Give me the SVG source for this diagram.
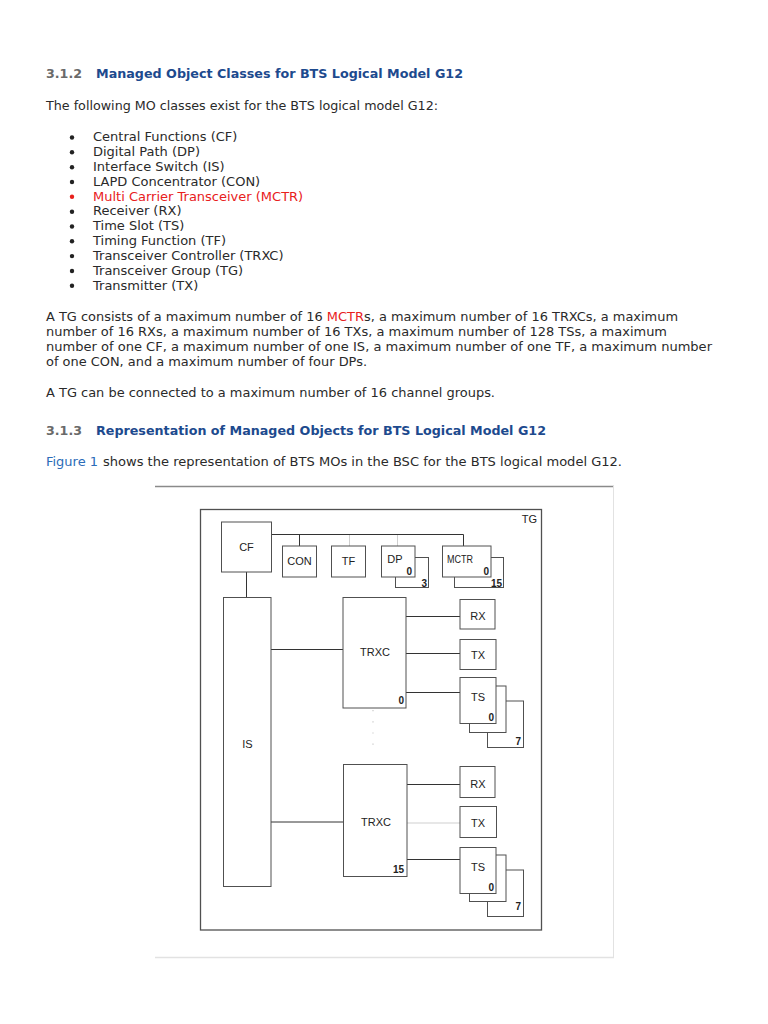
<svg xmlns="http://www.w3.org/2000/svg" width="768" height="1024" viewBox="0 0 768 1024">
<style>
.body{font-family:"DejaVu Sans","Verdana",sans-serif;font-size:13px;fill:#2a2a2a}
.num{font-family:"DejaVu Sans",sans-serif;font-size:12px;font-weight:bold;fill:#6a6a6a}
.head{font-family:"DejaVu Sans",sans-serif;font-size:12px;font-weight:bold;fill:#1d4a8e}
.red{fill:#e8201c}
.link{fill:#2b6cb8}
.box{fill:#fff;stroke:#505050;stroke-width:1}
.lbl{font-family:"Liberation Sans","Arial",sans-serif;font-size:11px;fill:#222;text-anchor:middle}
.idx{font-family:"Liberation Sans","Arial",sans-serif;font-size:10px;font-weight:bold;fill:#222;text-anchor:end}
.dk{stroke:#333;stroke-width:1;fill:none}
.lt{stroke:#cfcfcf;stroke-width:1;fill:none}
</style>
<rect width="768" height="1024" fill="#fff"/>

<!-- Section 3.1.2 -->
<text class="num" x="46" y="77.5" textLength="36" lengthAdjust="spacingAndGlyphs">3.1.2</text>
<text class="head" x="96" y="77.5" textLength="367" lengthAdjust="spacingAndGlyphs">Managed Object Classes for BTS Logical Model G12</text>
<text class="body" x="46" y="109.5" textLength="392" lengthAdjust="spacingAndGlyphs">The following MO classes exist for the BTS logical model G12:</text>

<g id="bullets">
<circle cx="72" cy="137.5" r="2.2" fill="#222"/>
<circle cx="72" cy="152.3" r="2.2" fill="#222"/>
<circle cx="72" cy="167.2" r="2.2" fill="#222"/>
<circle cx="72" cy="182" r="2.2" fill="#222"/>
<circle cx="72" cy="196.8" r="2.2" fill="#e8201c"/>
<circle cx="72" cy="211.7" r="2.2" fill="#222"/>
<circle cx="72" cy="226.5" r="2.2" fill="#222"/>
<circle cx="72" cy="241.3" r="2.2" fill="#222"/>
<circle cx="72" cy="256.1" r="2.2" fill="#222"/>
<circle cx="72" cy="271" r="2.2" fill="#222"/>
<circle cx="72" cy="285.8" r="2.2" fill="#222"/>
<text class="body" x="93" y="141.2">Central Functions (CF)</text>
<text class="body" x="93" y="156">Digital Path (DP)</text>
<text class="body" x="93" y="170.9">Interface Switch (IS)</text>
<text class="body" x="93" y="185.7">LAPD Concentrator (CON)</text>
<text class="body red" x="93" y="200.5">Multi Carrier Transceiver (MCTR)</text>
<text class="body" x="93" y="215.4">Receiver (RX)</text>
<text class="body" x="93" y="230.2">Time Slot (TS)</text>
<text class="body" x="93" y="245">Timing Function (TF)</text>
<text class="body" x="93" y="259.8">Transceiver Controller (TRXC)</text>
<text class="body" x="93" y="274.7">Transceiver Group (TG)</text>
<text class="body" x="93" y="289.5">Transmitter (TX)</text>
</g>

<text class="body" x="46" y="321.2" textLength="632" lengthAdjust="spacingAndGlyphs">A TG consists of a maximum number of 16 <tspan class="red">MCTR</tspan>s, a maximum number of 16 TRXCs, a maximum</text>
<text class="body" x="46" y="336.2" textLength="621" lengthAdjust="spacingAndGlyphs">number of 16 RXs, a maximum number of 16 TXs, a maximum number of 128 TSs, a maximum</text>
<text class="body" x="46" y="351.2" textLength="666" lengthAdjust="spacingAndGlyphs">number of one CF, a maximum number of one IS, a maximum number of one TF, a maximum number</text>
<text class="body" x="46" y="366.2" textLength="321" lengthAdjust="spacingAndGlyphs">of one CON, and a maximum number of four DPs.</text>
<text class="body" x="46" y="396.5" textLength="449" lengthAdjust="spacingAndGlyphs">A TG can be connected to a maximum number of 16 channel groups.</text>

<!-- Section 3.1.3 -->
<text class="num" x="46" y="435" textLength="36" lengthAdjust="spacingAndGlyphs">3.1.3</text>
<text class="head" x="96" y="435" textLength="450" lengthAdjust="spacingAndGlyphs">Representation of Managed Objects for BTS Logical Model G12</text>
<text class="body link" x="46" y="466" textLength="52" lengthAdjust="spacingAndGlyphs">Figure 1</text>
<text class="body" x="103" y="466" textLength="519" lengthAdjust="spacingAndGlyphs">shows the representation of BTS MOs in the BSC for the BTS logical model G12.</text>

<!-- Figure frame -->
<g id="frame">
<line x1="155" y1="486.5" x2="614" y2="486.5" stroke="#8a8a8a" stroke-width="1.3"/>
<line x1="613.5" y1="486" x2="613.5" y2="957" stroke="#e2e2e2" stroke-width="1"/>
<line x1="155" y1="957.5" x2="614" y2="957.5" stroke="#e2e2e2" stroke-width="1.3"/>
</g>

<g id="TG">
<rect x="200.5" y="509.5" width="341" height="420.5" fill="none" stroke="#505050" stroke-width="1.3"/>
<text class="lbl" x="537" y="523" style="text-anchor:end">TG</text>
</g>

<!-- connectors -->
<g id="connectors">
<polyline class="dk" points="272,534.5 463.5,534.5 463.5,546" stroke-width="1.5"/>
<line class="dk" x1="299.5" y1="534" x2="299.5" y2="546"/>
<line class="lt" x1="349.5" y1="535" x2="349.5" y2="546"/>
<line class="lt" x1="397.5" y1="535" x2="397.5" y2="546"/>
<line class="dk" x1="246.5" y1="572" x2="246.5" y2="597"/>
<line class="dk" x1="271" y1="649.5" x2="343" y2="649.5"/>
<line class="dk" x1="406" y1="616.5" x2="460" y2="616.5"/>
<line class="dk" x1="406" y1="653.5" x2="460" y2="653.5"/>
<line class="dk" x1="406" y1="692.5" x2="460" y2="692.5"/>
<line class="dk" x1="271" y1="822" x2="343" y2="822" stroke-width="1.6"/>
<line class="dk" x1="407" y1="784.5" x2="460" y2="784.5"/>
<line class="lt" x1="407" y1="823" x2="460" y2="823"/>
<line class="dk" x1="407" y1="859.5" x2="460" y2="859.5"/>
<line x1="373" y1="710" x2="373" y2="752" stroke="#c8c8c8" stroke-width="1.2" stroke-dasharray="1.2 10"/>
</g>

<g id="CF"><rect class="box" x="221.5" y="522" width="50" height="50"/><text class="lbl" x="246.5" y="551">CF</text></g>
<g id="CON"><rect class="box" x="282.5" y="546" width="34" height="31"/><text class="lbl" x="299.5" y="565">CON</text></g>
<g id="TF"><rect class="box" x="331.5" y="546" width="34" height="31"/><text class="lbl" x="348.5" y="565">TF</text></g>
<g id="DP">
<rect class="box" x="395.5" y="557.5" width="33" height="30"/>
<rect class="box" x="381.5" y="546" width="33.5" height="31"/>
<text class="lbl" x="395" y="563">DP</text>
<text class="idx" x="412" y="575">0</text>
<text class="idx" x="427" y="587">3</text>
</g>
<g id="MCTR">
<rect class="box" x="454.5" y="557.5" width="49" height="30"/>
<rect class="box" x="442.5" y="546" width="48.5" height="31"/>
<text class="lbl" x="460" y="563" textLength="26" lengthAdjust="spacingAndGlyphs">MCTR</text>
<text class="idx" x="489" y="575">0</text>
<text class="idx" x="502" y="587">15</text>
</g>
<g id="IS"><rect class="box" x="223.5" y="597.5" width="47.5" height="289"/><text class="lbl" x="247.5" y="748">IS</text></g>

<g id="TRXC0">
<rect class="box" x="343" y="597.5" width="63" height="110.5"/>
<text class="lbl" x="375" y="655.5">TRXC</text>
<text class="idx" x="404" y="704">0</text>
</g>
<g id="RX0"><rect class="box" x="460" y="599.5" width="35" height="29.5"/><text class="lbl" x="478" y="620">RX</text></g>
<g id="TX0"><rect class="box" x="460" y="639.5" width="36" height="30"/><text class="lbl" x="478" y="659">TX</text></g>
<g id="TS0">
<rect class="box" x="487.5" y="701" width="36" height="46.5"/>
<rect class="box" x="469.5" y="686" width="36.5" height="46.5"/>
<rect class="box" x="460" y="677.5" width="36" height="46"/>
<text class="lbl" x="478" y="701">TS</text>
<text class="idx" x="494" y="720.5">0</text>
<text class="idx" x="521" y="745">7</text>
</g>

<g id="TRXC15">
<rect class="box" x="343.5" y="764.5" width="63.5" height="112"/>
<text class="lbl" x="376" y="825.5">TRXC</text>
<text class="idx" x="404" y="873">15</text>
</g>
<g id="RX15"><rect class="box" x="460" y="766.5" width="35" height="31"/><text class="lbl" x="478" y="788">RX</text></g>
<g id="TX15"><rect class="box" x="460" y="806.5" width="36.5" height="31"/><text class="lbl" x="478" y="826.5">TX</text></g>
<g id="TS15">
<rect class="box" x="487.5" y="870" width="36" height="46.5"/>
<rect class="box" x="469.5" y="855" width="36.5" height="46.5"/>
<rect class="box" x="460" y="847.5" width="36" height="46"/>
<text class="lbl" x="478" y="871">TS</text>
<text class="idx" x="494" y="890.5">0</text>
<text class="idx" x="521" y="910">7</text>
</g>
</svg>
